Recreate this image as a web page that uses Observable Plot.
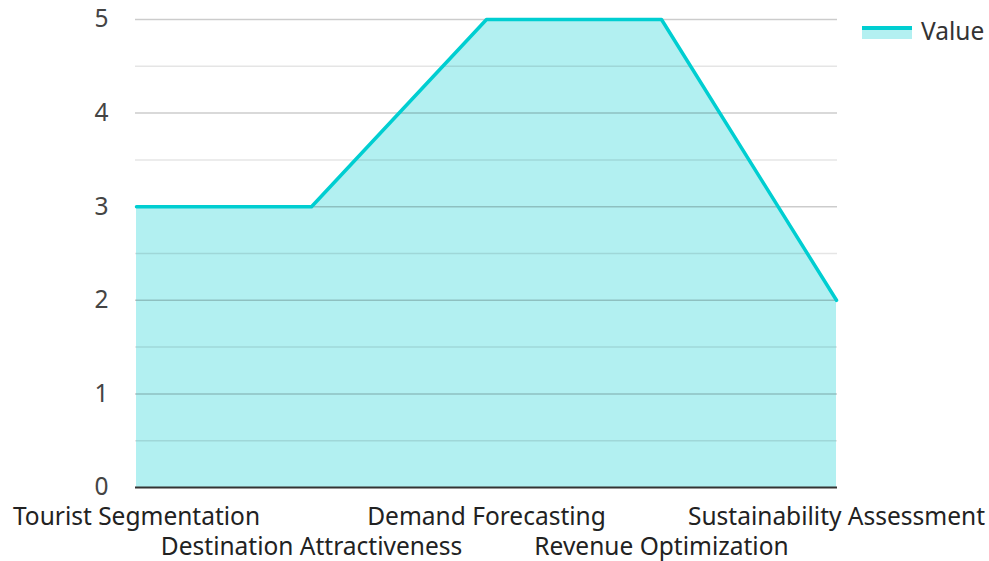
<!DOCTYPE html>
<html>
<head>
<meta charset="utf-8">
<script src="https://cdn.jsdelivr.net/npm/d3@7"></script>
<script src="https://cdn.jsdelivr.net/npm/@observablehq/plot@0.6"></script>
<style>
  html, body { margin: 0; padding: 0; background: #fff; }
  #wrap { position: relative; width: 989px; height: 561px; font-family: "Noto Sans", sans-serif; }
  #legend { position: absolute; left: 862px; top: 14px; display: flex; align-items: center; font-size: 24.5px; color: #333; line-height: 34px; }
  #legend .sw { width: 50px; height: 14px; position: relative; margin-right: 9px; }
  #legend .sw .fill { position: absolute; left: 0; top: 4px; width: 50px; height: 11px; background: rgb(179,240,241); }
  #legend .sw .ln { position: absolute; left: 0; top: 2px; width: 50px; height: 3.5px; background: #00CED1; }
</style>
</head>
<body>
<div id="wrap">
  <div id="chart"></div>
  <div id="legend"><div class="sw"><div class="fill"></div><div class="ln"></div></div><span>Value</span></div>
</div>
<script>
const categories = ["Tourist Segmentation", "Destination Attractiveness", "Demand Forecasting", "Revenue Optimization", "Sustainability Assessment"];
const values = [3, 3, 5, 5, 2];
const majorTicks = [0, 1, 2, 3, 4, 5];
const minorTicks = [0.5, 1.5, 2.5, 3.5, 4.5];

const data = categories.map((c, i) => ({category: c, value: values[i]}));
const color = "#00CED1";

const chart = Plot.plot({
  width: 989,
  height: 561,
  marginLeft: 135,
  marginRight: 152,
  marginTop: 19,
  marginBottom: 74,
  style: {fontFamily: "'Noto Sans', sans-serif", fontSize: "24.5px", color: "#333", background: "#fff"},
  x: {type: "point", domain: categories, padding: 0, label: null},
  y: {domain: [0, 5], label: null},
  marks: [
    Plot.areaY(data, {x: "category", y: "value", fill: color, fillOpacity: 0.3}),
    Plot.gridY(minorTicks, {stroke: "#000", strokeOpacity: 0.1, strokeWidth: 1.5}),
    Plot.gridY(majorTicks.filter(d => d > 0), {stroke: "#000", strokeOpacity: 0.2, strokeWidth: 1.5}),
    Plot.lineY(data, {x: "category", y: "value", stroke: color, strokeWidth: 3.5}),
    Plot.ruleY([0], {stroke: "#333", strokeWidth: 2}),
    Plot.axisY({ticks: majorTicks, tickFormat: d3.format("d"), tickSize: 0, tickPadding: 27, fontSize: 24.5, fill: "#444"}),
    Plot.axisX({ticks: categories.filter((d, i) => i % 2 === 0), tickSize: 0, tickPadding: 20, fontSize: 24.5, fill: "#222"}),
    Plot.axisX({ticks: categories.filter((d, i) => i % 2 === 1), tickSize: 0, tickPadding: 50, fontSize: 24.5, fill: "#222"})
  ]
});
document.getElementById("chart").appendChild(chart);
</script>
</body>
</html>
